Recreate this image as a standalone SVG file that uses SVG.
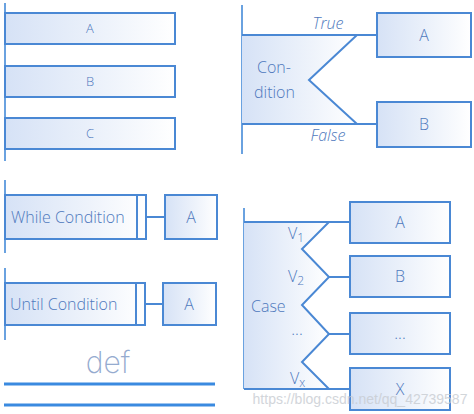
<svg xmlns="http://www.w3.org/2000/svg" width="474" height="414" viewBox="0 0 474 414">
<defs>
<linearGradient id="g" x1="0" y1="0" x2="1" y2="0">
<stop offset="0" stop-color="#d6e2f6"/>
<stop offset="0.6" stop-color="#eef3fb"/>
<stop offset="1" stop-color="#ffffff"/>
</linearGradient>
<style>
.box{fill:url(#g);stroke:#4a88d4;stroke-width:2}
.ln{fill:none;stroke:#4a88d4;stroke-width:2}
.vl{fill:none;stroke:#6aa2e0;stroke-width:2}
.t{font-family:"Open Sans","Liberation Sans",sans-serif;font-weight:300;fill:#4f79bd;font-size:16px}
.s{font-size:13px;text-anchor:middle}
</style>
</defs>
<rect width="474" height="414" fill="#ffffff"/>
<g id="connectors">
<line class="vl" x1="5" y1="3" x2="5" y2="161"/>
<line class="vl" x1="242" y1="5" x2="242" y2="154"/>
<line class="ln" x1="357" y1="35" x2="377" y2="35"/>
<line class="ln" x1="357" y1="124" x2="377" y2="124"/>
<line class="vl" x1="5" y1="180" x2="5" y2="253"/>
<line class="ln" x1="146" y1="217" x2="165" y2="217"/>
<line class="vl" x1="5" y1="268" x2="5" y2="340"/>
<line class="ln" x1="145" y1="304" x2="163" y2="304"/>
<line class="vl" x1="244" y1="208" x2="244" y2="389"/>
<line class="ln" x1="329" y1="222" x2="350" y2="222"/>
<line class="ln" x1="329" y1="277" x2="350" y2="277"/>
<line class="ln" x1="329" y1="334" x2="350" y2="334"/>
<line class="ln" x1="329" y1="389" x2="350" y2="389"/>
</g>
<g id="seqA"><rect class="box" x="5" y="13" width="170" height="31"/><text class="t s" x="90" y="33">A</text></g>
<g id="seqB"><rect class="box" x="5" y="66" width="170" height="31"/><text class="t s" x="90" y="86">B</text></g>
<g id="seqC"><rect class="box" x="5" y="118" width="170" height="31"/><text class="t s" x="90" y="138">C</text></g>
<g id="condition">
<path d="M242,35 H357 L309,80 L357,124 H242" fill="url(#g)" stroke="none"/>
<path class="ln" d="M242,35 H357 L309,80 L357,124 H242"/>
<text class="t" x="257" y="73" font-size="17">Con-</text>
<text class="t" x="254" y="98" font-size="17">dition</text>
<text class="t" x="328" y="29" text-anchor="middle" font-style="italic">True</text>
<text class="t" x="328" y="141" text-anchor="middle" font-style="italic">False</text>
</g>
<g id="ifA"><rect class="box" x="377" y="13" width="94" height="44"/><text class="t" x="424" y="41" text-anchor="middle">A</text></g>
<g id="ifB"><rect class="box" x="377" y="102" width="94" height="45"/><text class="t" x="424" y="130" text-anchor="middle">B</text></g>
<g id="while">
<rect class="box" x="5" y="195" width="141" height="44"/>
<line class="ln" x1="137" y1="195" x2="137" y2="239"/>
<text class="t" x="11" y="223">While Condition</text>
</g>
<g id="whileA"><rect class="box" x="165" y="195" width="52" height="44"/><text class="t" x="191" y="223" text-anchor="middle">A</text></g>
<g id="until">
<rect class="box" x="5" y="283" width="140" height="42"/>
<line class="ln" x1="136" y1="283" x2="136" y2="325"/>
<text class="t" x="10" y="310">Until Condition</text>
</g>
<g id="untilA"><rect class="box" x="163" y="283" width="53" height="42"/><text class="t" x="189" y="310" text-anchor="middle">A</text></g>
<g id="def">
<text x="108" y="373" text-anchor="middle" font-family="Inter, Open Sans, sans-serif" font-weight="200" font-size="30" fill="#95abcf">def</text>
<line x1="4" y1="384" x2="215" y2="384" stroke="#3a8ae0" stroke-width="3"/>
<line x1="4" y1="405" x2="215" y2="405" stroke="#3a8ae0" stroke-width="3"/>
</g>
<g id="case">
<path d="M244,222 H329 L302,249 L329,277 L302,305 L329,334 L302,362 L329,389 H244 Z" fill="url(#g)" stroke="none"/>
<path class="ln" d="M244,222 H329 L302,249 L329,277 L302,305 L329,334 L302,362 L329,389 H244"/>
<text class="t" x="288" y="239">V<tspan font-size="12" dy="3">1</tspan></text>
<text class="t" x="288" y="282">V<tspan font-size="12" dy="3">2</tspan></text>
<text class="t" x="251" y="312">Case</text>
<text class="t" x="297" y="335" text-anchor="middle">...</text>
<text class="t" x="290" y="384">V<tspan font-size="12" dy="3">x</tspan></text>
</g>
<g id="caseA"><rect class="box" x="350" y="202" width="100" height="41"/><text class="t" x="400" y="228" text-anchor="middle">A</text></g>
<g id="caseB"><rect class="box" x="350" y="256" width="100" height="41"/><text class="t" x="400" y="282" text-anchor="middle">B</text></g>
<g id="caseDots"><rect class="box" x="350" y="313" width="100" height="41"/><text class="t" x="400" y="339" text-anchor="middle">...</text></g>
<g id="caseX"><rect class="box" x="350" y="368" width="100" height="42"/><text class="t" x="400" y="395" text-anchor="middle">X</text></g>
<text x="360" y="404" text-anchor="middle" font-family="Liberation Sans, sans-serif" font-size="14" fill="#c8ccd2" opacity="0.8">https://blog.csdn.net/qq_42739587</text>
</svg>
